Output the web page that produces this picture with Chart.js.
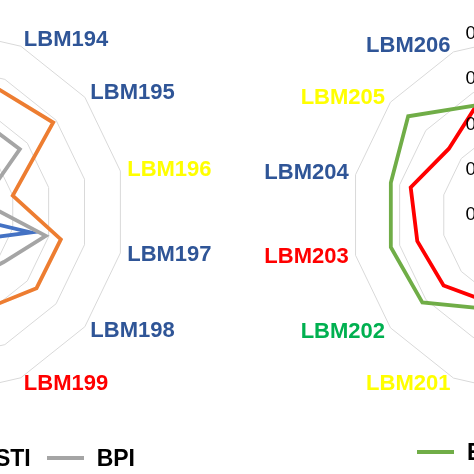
<!DOCTYPE html>
<html>
<head>
<meta charset="utf-8">
<script src="https://cdn.jsdelivr.net/npm/chart.js@4.4.1/dist/chart.umd.min.js"></script>
<style>
html, body { margin: 0; padding: 0; background: #fff; }
#stage { position: relative; width: 474px; height: 474px; overflow: hidden; background: #fff;
  font-family: "Liberation Sans", Arial, sans-serif; }
.chart { position: absolute; }
.legend { position: absolute; display: flex; align-items: center; font-weight: bold;
  font-size: 23px; color: #000; white-space: nowrap; line-height: 26px; }
.legend .item { display: flex; align-items: center; }
.legend .item + .item { margin-left: 16px; }
.legend .line { width: 37px; height: 4px; margin-right: 13px; }
</style>
</head>
<body>
<div id="stage">
  <div class="chart" id="wrapLeft"><canvas id="left"></canvas></div>
  <div class="chart" id="wrapRight"><canvas id="right"></canvas></div>
  <div class="legend" id="legLeft"></div>
  <div class="legend" id="legRight"></div>
</div>
<script>
// categories (same 14 lines on both radars, LBM193 at the top)
var genotypes = ['LBM193', 'LBM194', 'LBM195', 'LBM196', 'LBM197', 'LBM198', 'LBM199',
                 'LBM200', 'LBM201', 'LBM202', 'LBM203', 'LBM204', 'LBM205', 'LBM206'];

// left radar
var ssi = [0.50, 0.40, 0.35, 0.03, 1.25, 0.60, 0.45, 0.50, 0.40, 0.55, 0.45, 0.50, 0.40, 0.45];
var sti = [1.60, 1.84, 1.95, 1.00, 1.67, 1.66, 1.45, 1.20, 1.50, 1.30, 1.80, 1.40, 1.70, 1.50];
var bpi = [1.00, 1.35, 1.37, 0.58, 1.46, 1.09, 1.00, 0.90, 1.10, 0.95, 1.20, 1.00, 1.15, 1.05];
var leftTicks = { max: 2.5, step: 0.5 };

// right radar
var esi = [0.55, 0.60, 0.58, 0.62, 0.60, 0.57, 0.60, 0.50, 0.46, 0.62, 0.64, 0.64, 0.70, 0.54];
var ysi = [0.50, 0.45, 0.50, 0.48, 0.52, 0.50, 0.47, 0.42, 0.43, 0.50, 0.52, 0.55, 0.47, 0.55];
var rightTicks = { max: 0.8, step: 0.2 };

// label colours per genotype
var labelColors = ['#2F5597', '#2F5597', '#2F5597', '#FFFF00', '#2F5597', '#2F5597', '#FF0000',
                   '#2F5597', '#FFFF00', '#00B050', '#FF0000', '#2F5597', '#FFFF00', '#2F5597'];

var FONT = '"Liberation Sans", Arial, sans-serif';

// category labels drawn like Excel does: vertically centred, left/right aligned by side
var excelLabels = {
  id: 'excelLabels',
  afterDatasetsDraw: function (chart, args, opts) {
    var s = chart.scales.r, ctx = chart.ctx;
    ctx.save();
    ctx.font = 'bold 22px ' + FONT;
    chart.data.labels.forEach(function (txt, i) {
      var p = s.getPointPosition(i, s.drawingArea + 7);
      var deg = ((p.angle * 180 / Math.PI + 90) % 360 + 360) % 360;
      var d = Math.round(deg * 100) / 100;
      ctx.textAlign = (d === 0 || d === 180) ? 'center' : (d < 180 ? 'left' : 'right');
      ctx.textBaseline = d === 0 ? 'bottom' : (d === 180 ? 'top' : 'middle');
      ctx.fillStyle = labelColors[i];
      ctx.fillText(txt, p.x, p.y);
    });
    if (opts.showTicks) {
      ctx.font = '19px ' + FONT;
      ctx.fillStyle = '#000';
      ctx.textAlign = 'right';
      ctx.textBaseline = 'middle';
      s.ticks.forEach(function (t) {
        var y = s.yCenter - s.getDistanceFromCenterForValue(t.value);
        ctx.fillText(t.value.toFixed(1), s.xCenter - 40, y);
      });
    }
    ctx.restore();
  }
};

function line(label, data, color, order) {
  return { label: label, data: data, borderColor: color, backgroundColor: color,
           borderWidth: 3.8, pointRadius: 0, fill: false, tension: 0, order: order };
}

// builds a radar whose centre sits at (cx, cy) of the stage with radius R
function makeRadar(id, wrapId, datasets, ticks, cx, cy, R, showTicks) {
  var P = 120, S = 2 * (R + P);
  var canvas = document.getElementById(id);
  canvas.width = S; canvas.height = S;
  canvas.style.width = S + 'px'; canvas.style.height = S + 'px';
  var wrap = document.getElementById(wrapId);
  wrap.style.left = (cx - (P + R)) + 'px';
  wrap.style.top = (cy - (P + R)) + 'px';
  return new Chart(canvas.getContext('2d'), {
    type: 'radar',
    data: { labels: genotypes, datasets: datasets },
    options: {
      responsive: false,
      animation: false,
      layout: { padding: P },
      plugins: { legend: { display: false }, tooltip: { enabled: false },
                 excelLabels: { showTicks: showTicks } },
      scales: {
        r: {
          min: 0, max: ticks.max,
          ticks: { stepSize: ticks.step, display: false },
          grid: { color: '#D9D9D9', lineWidth: 1 },
          angleLines: { display: false },
          pointLabels: { display: false }
        }
      }
    },
    plugins: [excelLabels]
  });
}

var left = makeRadar('left', 'wrapLeft', [
  line('SSI', ssi, '#4472C4', 3),
  line('STI', sti, '#ED7D31', 2),
  line('BPI', bpi, '#A5A5A5', 1)
], leftTicks, -59, 212, 184, false);

var right = makeRadar('right', 'wrapRight', [
  line('ESI', esi, '#70AD47', 1),
  line('YSI', ysi, '#FF0000', 2)
], rightTicks, 532, 215, 181, true);

// legends (Excel style line keys)
function buildLegend(elId, chart) {
  var el = document.getElementById(elId);
  chart.data.datasets.forEach(function (ds) {
    var item = document.createElement('div');
    item.className = 'item';
    var key = document.createElement('span');
    key.className = 'line';
    key.style.background = ds.borderColor;
    var txt = document.createElement('span');
    txt.textContent = ds.label;
    item.appendChild(key); item.appendChild(txt);
    el.appendChild(item);
  });
}
buildLegend('legLeft', left);
buildLegend('legRight', right);
var legL = document.getElementById('legLeft');
legL.style.right = (474 - 135) + 'px';
legL.style.top = (458 - 13) + 'px';
var legR = document.getElementById('legRight');
legR.style.left = '417px';
legR.style.top = (452 - 13) + 'px';
</script>
</body>
</html>
